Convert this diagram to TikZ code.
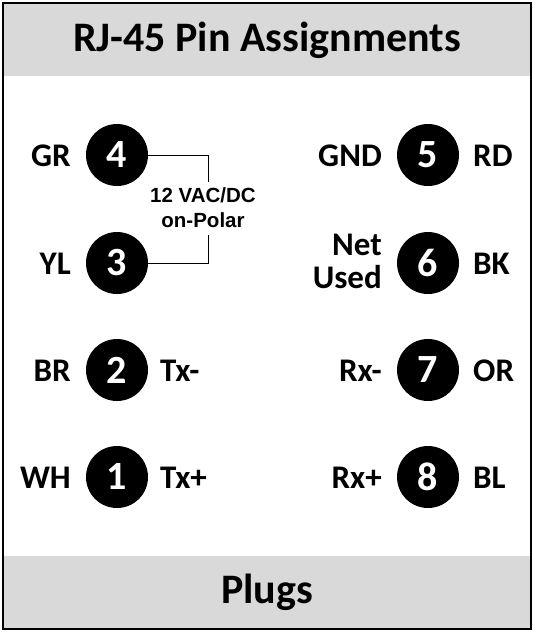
\documentclass[tikz,border=0pt]{standalone}
\usepackage{fontspec}
\setmainfont{Carlito}
\newfontfamily\arialfont{Liberation Sans}
\definecolor{bandgray}{HTML}{D9D9D9}
\begin{document}
\begin{tikzpicture}[x=1pt,y=-1pt,
  pin/.style={circle,fill=black,minimum size=62pt,inner sep=0pt,text=white,font=\fontsize{40}{42}\selectfont\bfseries},
  lab/.style={inner sep=0pt,font=\fontsize{33}{33}\selectfont\bfseries},
  band/.style={fill=bandgray,draw=none},
  wire/.style={draw=black,line width=1pt}]
\useasboundingbox (0,0) rectangle (534,632);
\fill[white] (0,0) rectangle (534,632);
\path[band] (3,3) rectangle (531,76);
\path[band] (3,556) rectangle (531,629);
\draw[line width=2pt] (3,3) rectangle (531,629);
\node[inner sep=0pt,font=\fontsize{42}{46}\selectfont\bfseries] (title) at (267,40) {RJ-45 Pin Assignments};
\node[inner sep=0pt,font=\fontsize{42}{46}\selectfont\bfseries] (plugs) at (267,592) {Plugs};
% pins
\node[pin] (p4) at (117,155) {4};
\node[pin] (p3) at (117,263) {3};
\node[pin] (p2) at (117,370) {2};
\node[pin] (p1) at (117,477) {1};
\node[pin] (p5) at (428,155) {5};
\node[pin] (p6) at (428,263) {6};
\node[pin] (p7) at (428,370) {7};
\node[pin] (p8) at (428,477) {8};
% left labels
\node[lab,anchor=base east] (l4) at (71,166) {GR};
\node[lab,anchor=base east] (l3) at (71,274) {YL};
\node[lab,anchor=base east] (l2) at (71,381) {BR};
\node[lab,anchor=base east] (l1) at (71,488) {WH};
\node[lab,anchor=base west] (r2) at (160,381) {Tx-};
\node[lab,anchor=base west] (r1) at (160,488) {Tx+};
% right side labels
\node[lab,anchor=base east] (l5) at (382,166) {GND};
\node[lab,anchor=east,align=right] (l6) at (382,261) {Net\\Used};
\node[lab,anchor=base east] (l7) at (382,381) {Rx-};
\node[lab,anchor=base east] (l8) at (382,488) {Rx+};
\node[lab,anchor=base west] (r5) at (473,166) {RD};
\node[lab,anchor=base west] (r6) at (473,274) {BK};
\node[lab,anchor=base west] (r7) at (473,381) {OR};
\node[lab,anchor=base west] (r8) at (473,488) {BL};
% voltage note
\node[inner sep=0pt,align=center,font=\arialfont\fontsize{20.5}{25}\selectfont\bfseries] (volt) at (203,208) {12 VAC/DC\\on-Polar};
\coordinate (w1) at (208,182);
\coordinate (w2) at (208,235);
\draw[wire] (p4.east) -| (w1);
\draw[wire] (w2) |- (p3.east);
\end{tikzpicture}
\end{document}
